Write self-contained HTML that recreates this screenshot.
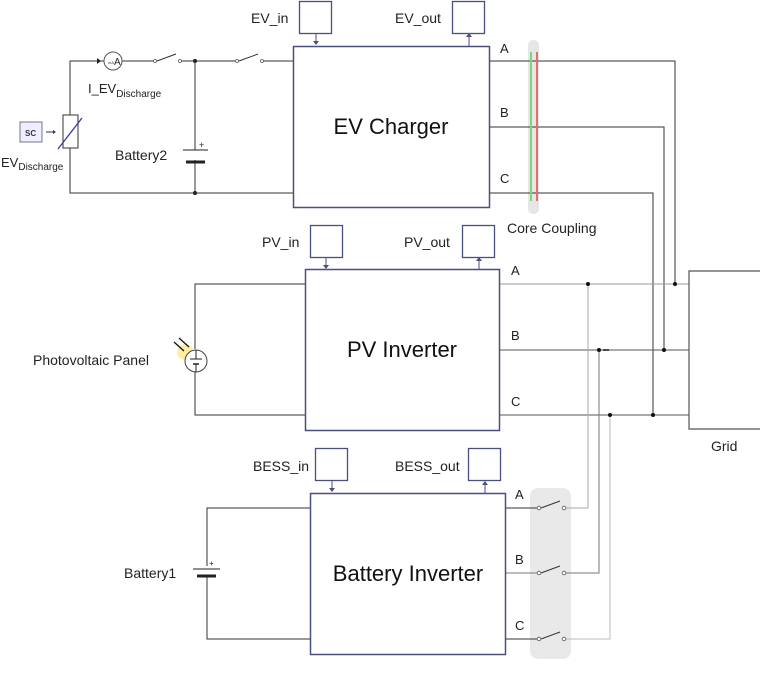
<!DOCTYPE html>
<html><head><meta charset="utf-8"><style>
html,body{margin:0;padding:0;background:#fff;}
svg{display:block;font-family:"Liberation Sans",sans-serif;}
</style></head><body>
<svg width="769" height="677" viewBox="0 0 769 677" xmlns="http://www.w3.org/2000/svg">
<rect width="769" height="677" fill="#fff"/>
<!-- core coupling band -->
<rect x="528" y="40" width="11" height="174" rx="5" fill="#e6e6e6"/>
<!-- battery switches band -->
<rect x="530" y="488" width="41" height="171" rx="8" fill="#e9e9e9"/>

<g stroke="#333" stroke-width="1" fill="none">
<!-- EV three-phase -->
<polyline points="490,61 675,61 675,284"/>
<polyline points="490,127 664,127 664,350"/>
<polyline points="490,193 653,193 653,415"/>
<!-- PV lines -->
<line x1="500" y1="284" x2="689" y2="284" stroke="#999"/>
<line x1="500" y1="350" x2="689" y2="350" stroke="#555"/>
<line x1="500" y1="415" x2="689" y2="415" stroke="#555"/>
<!-- battery verticals -->
<polyline points="566,508 588,508 588,284" stroke="#aaa"/>
<polyline points="566,573 599,573 599,350" stroke="#777"/>
<polyline points="566,639 610,639 610,415" stroke="#bbb"/>
<!-- battery phase lines -->
<line x1="506" y1="508" x2="539" y2="508"/>
<line x1="506" y1="573" x2="539" y2="573" stroke="#777"/>
<line x1="506" y1="639" x2="539" y2="639"/>
<!-- switches -->
<line x1="541" y1="508" x2="560" y2="501"/><line x1="541" y1="573" x2="560" y2="566"/><line x1="541" y1="639" x2="560" y2="632"/>
</g>
<g fill="#fff" stroke="#555" stroke-width="0.8">
<circle cx="539" cy="508" r="1.8"/><circle cx="564" cy="508" r="1.8"/>
<circle cx="539" cy="573" r="1.8"/><circle cx="564" cy="573" r="1.8"/>
<circle cx="539" cy="639" r="1.8"/><circle cx="564" cy="639" r="1.8"/>
</g>
<line x1="531" y1="52" x2="531" y2="201" stroke="#7dd67d" stroke-width="2"/>
<line x1="537" y1="52" x2="537" y2="201" stroke="#e07070" stroke-width="2"/>
<g fill="#111">
<circle cx="675" cy="284" r="2"/><circle cx="664" cy="350" r="2"/><circle cx="653" cy="415" r="2"/>
<circle cx="588" cy="284" r="2"/><circle cx="599" cy="350" r="2"/><circle cx="610" cy="415" r="2"/>
<circle cx="195" cy="61" r="2"/><circle cx="195" cy="193" r="2"/>
</g>
<line x1="603" y1="350" x2="609" y2="350" stroke="#111" stroke-width="1.5"/>

<!-- Grid -->
<polyline points="760,271 689,271 689,429 760,429" fill="none" stroke="#555" stroke-width="1.2"/>
<text x="711" y="451" font-size="14" fill="#222">Grid</text>

<!-- EV left circuit -->
<g stroke="#333" stroke-width="1" fill="none">
<polyline points="293,61 262,61"/><line x1="237" y1="61" x2="180" y2="61"/><line x1="155" y1="61" x2="122" y2="61"/>
<polyline points="104,61 70,61 70,115"/><polyline points="70,148 70,193 293,193"/>
<line x1="195" y1="61" x2="195" y2="150"/><line x1="195" y1="160" x2="195" y2="193"/>
<line x1="239" y1="61" x2="258" y2="54"/><line x1="157" y1="61" x2="176" y2="54"/>
<rect x="63" y="115" width="15" height="33" fill="#fff"/>
<circle cx="113" cy="61" r="9" fill="#fff" stroke="#555"/>
</g>
<line x1="58" y1="149" x2="82" y2="118" stroke="#3a3aa0" stroke-width="1.3"/>
<path d="M101,61 l-4,-3 v6z" fill="#222"/>
<text x="108" y="64" font-size="4" fill="#333">mA</text><text x="114" y="65" font-size="10" fill="#222">A</text>
<g fill="#fff" stroke="#555" stroke-width="0.8">
<circle cx="155" cy="61" r="1.5"/><circle cx="180" cy="61" r="1.5"/><circle cx="237" cy="61" r="1.5"/><circle cx="262" cy="61" r="1.5"/>
</g>
<line x1="183" y1="150" x2="208" y2="150" stroke="#222" stroke-width="1"/>
<line x1="186" y1="162" x2="205" y2="162" stroke="#222" stroke-width="3"/>
<text x="199" y="148" font-size="9" fill="#222">+</text>
<text x="115" y="160" font-size="14" fill="#222">Battery2</text>
<text x="88" y="93" font-size="13" fill="#222">I_EV<tspan font-size="10" dy="4">Discharge</tspan></text>
<text x="1" y="167" font-size="13" fill="#222">EV<tspan font-size="10" dy="3">Discharge</tspan></text>
<rect x="20" y="122" width="22" height="20" fill="#eef" stroke="#557" stroke-width="0.8"/>
<text x="25" y="136" font-size="8" font-weight="bold" fill="#335">SC</text>
<line x1="46" y1="132" x2="55" y2="132" stroke="#335"/><path d="M56,132 l-3,-2 v4z" fill="#335"/>

<!-- EV charger box -->
<rect x="293.5" y="46.5" width="196" height="161" fill="#fff" stroke="#4a4f80" stroke-width="1.5"/>
<text x="391" y="134" font-size="22" text-anchor="middle" fill="#111">EV Charger</text>
<rect x="299.5" y="1.5" width="32" height="32" fill="#fff" stroke="#4a4f80" stroke-width="1.3"/>
<rect x="452.5" y="1.5" width="32" height="32" fill="#fff" stroke="#4a4f80" stroke-width="1.3"/>
<line x1="316" y1="34" x2="316" y2="44" stroke="#4a4f80"/><path d="M313,41 h6 l-3,4z" fill="#4a4f80"/>
<line x1="469" y1="36" x2="469" y2="46" stroke="#4a4f80"/><path d="M466,37 h6 l-3,-4z" fill="#4a4f80"/>
<text x="251" y="23" font-size="14" fill="#222">EV_in</text>
<text x="395" y="23" font-size="14" fill="#222">EV_out</text>
<text x="500" y="53" font-size="13" fill="#222">A</text>
<text x="500" y="117" font-size="13" fill="#222">B</text>
<text x="500" y="183" font-size="13" fill="#222">C</text>
<text x="507" y="233" font-size="14" fill="#222">Core Coupling</text>

<!-- PV -->
<polyline points="305,284 195,284 195,349" fill="none" stroke="#333"/>
<polyline points="195,371 195,415 305,415" fill="none" stroke="#333"/>
<circle cx="185" cy="352" r="8" fill="#ffe98a" opacity="0.8"/>
<circle cx="196" cy="361" r="11" fill="#fff" stroke="#444"/>
<line x1="190" y1="359" x2="202" y2="359" stroke="#222"/><line x1="193" y1="364" x2="199" y2="364" stroke="#222" stroke-width="1.5"/>
<line x1="196" y1="350" x2="196" y2="359" stroke="#222"/><line x1="196" y1="364" x2="196" y2="372" stroke="#222"/>
<line x1="174" y1="342" x2="184" y2="351" stroke="#111" stroke-width="1.3"/><line x1="179" y1="338" x2="189" y2="347" stroke="#111" stroke-width="1.3"/>
<text x="33" y="365" font-size="14" fill="#222">Photovoltaic Panel</text>
<rect x="305.5" y="269.5" width="194" height="161" fill="#fff" stroke="#4a4f80" stroke-width="1.5"/>
<text x="402" y="357" font-size="22" text-anchor="middle" fill="#111">PV Inverter</text>
<rect x="310.5" y="225.5" width="32" height="32" fill="#fff" stroke="#4a4f80" stroke-width="1.3"/>
<rect x="462.5" y="225.5" width="32" height="32" fill="#fff" stroke="#4a4f80" stroke-width="1.3"/>
<line x1="326" y1="258" x2="326" y2="268" stroke="#4a4f80"/><path d="M323,265 h6 l-3,4z" fill="#4a4f80"/>
<line x1="479" y1="259" x2="479" y2="269" stroke="#4a4f80"/><path d="M476,261 h6 l-3,-4z" fill="#4a4f80"/>
<text x="262" y="247" font-size="14" fill="#222">PV_in</text>
<text x="404" y="247" font-size="14" fill="#222">PV_out</text>
<text x="511" y="275" font-size="13" fill="#222">A</text>
<text x="511" y="340" font-size="13" fill="#222">B</text>
<text x="511" y="406" font-size="13" fill="#222">C</text>

<!-- Battery inverter -->
<polyline points="310,508 207,508 207,566" fill="none" stroke="#333"/>
<polyline points="207,576 207,639 310,639" fill="none" stroke="#333"/>
<line x1="193" y1="569" x2="220" y2="569" stroke="#222"/>
<line x1="197" y1="576" x2="216" y2="576" stroke="#222" stroke-width="3"/>
<text x="209" y="566" font-size="8" fill="#222">+</text>
<text x="124" y="578" font-size="14" fill="#222">Battery1</text>
<rect x="310.5" y="493.5" width="195" height="161" fill="#fff" stroke="#4a4f80" stroke-width="1.5"/>
<text x="408" y="581" font-size="22" text-anchor="middle" fill="#111">Battery Inverter</text>
<rect x="315.5" y="448.5" width="32" height="32" fill="#fff" stroke="#4a4f80" stroke-width="1.3"/>
<rect x="468.5" y="448.5" width="32" height="32" fill="#fff" stroke="#4a4f80" stroke-width="1.3"/>
<line x1="332" y1="481" x2="332" y2="491" stroke="#4a4f80"/><path d="M329,488 h6 l-3,4z" fill="#4a4f80"/>
<line x1="485" y1="482" x2="485" y2="493" stroke="#4a4f80"/><path d="M482,485 h6 l-3,-4z" fill="#4a4f80"/>
<text x="253" y="471" font-size="14" fill="#222">BESS_in</text>
<text x="395" y="471" font-size="14" fill="#222">BESS_out</text>
<text x="515" y="499" font-size="13" fill="#222">A</text>
<text x="515" y="564" font-size="13" fill="#222">B</text>
<text x="515" y="630" font-size="13" fill="#222">C</text>
</svg>
</body></html>
